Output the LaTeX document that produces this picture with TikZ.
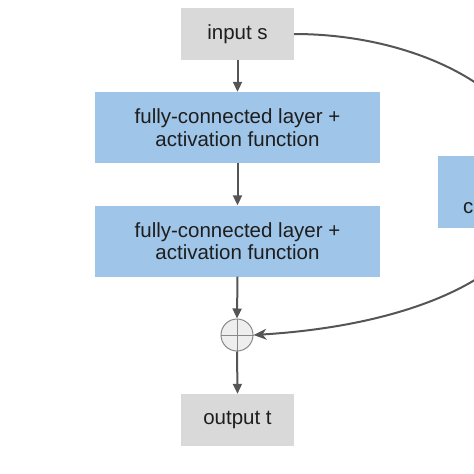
\documentclass[tikz,border=0pt]{standalone}
\usepackage{fontspec}
\setmainfont{Liberation Sans}
\usetikzlibrary{arrows.meta}
\definecolor{greybox}{HTML}{D9D9D9}
\definecolor{bluebox}{HTML}{9FC5E8}
\definecolor{arrowc}{HTML}{555555}
\definecolor{textc}{HTML}{1E1E1E}
\definecolor{sumfill}{HTML}{EEEEEE}
\definecolor{sumline}{HTML}{888888}
\tikzset{
  greyn/.style={fill=greybox, draw=none, minimum width=113pt, minimum height=52pt, inner sep=0pt, text=textc, font=\fontsize{20.5pt}{22pt}\selectfont},
  bluen/.style={fill=bluebox, draw=none, minimum width=285pt, minimum height=71pt, inner sep=0pt, align=center, text=textc, font=\fontsize{20.5pt}{22.5pt}\selectfont},
  flow/.style={draw=arrowc, line width=2pt, -{Triangle[length=10pt,width=9pt]}},
  skip/.style={draw=arrowc, line width=2pt, -{Stealth[length=13pt,width=11pt,inset=4pt]}},
  sumn/.style={circle, fill=sumfill, draw=sumline, line width=1pt, minimum size=32pt, inner sep=0pt}
}
\begin{document}
\begin{tikzpicture}[x=1pt,y=-1pt]
\useasboundingbox (0,0) rectangle (474,474);
\clip (0,0) rectangle (474,474);
\node[greyn] (in) at (237.5,34) {input s};
\node[bluen] (fc1) at (237.5,127.5) {fully-connected layer +\\activation function};
\node[bluen] (fc2) at (237.5,241) {fully-connected layer +\\activation function};
\node[sumn] (sum) at (237,335) {};
\draw[sumline, line width=1pt] (sum.north) -- (sum.south) (sum.west) -- (sum.east);
\node[greyn] (out) at (237.5,420) {output t};
\coordinate (far) at (540,185);
\draw[skip] (in.east) .. controls (420,34) and (540,95) .. (far)
  .. controls (540,270) and (420,325) .. (sum.east);
\node[fill=bluebox, draw=none, minimum width=122pt, minimum height=72pt, inner sep=0pt, anchor=north west] (side) at (438,156) {};
\node[text=textc, font=\fontsize{20.5pt}{22pt}\selectfont, anchor=base west, inner sep=0pt] (sidet) at (463,213) {c};
\draw[flow] (in.south) -- (fc1.north);
\draw[flow] (fc1.south) -- (fc2.north);
\draw[flow] (fc2.south) -- (sum.north);
\draw[flow] (sum.south) -- (out.north);
\end{tikzpicture}
\end{document}
